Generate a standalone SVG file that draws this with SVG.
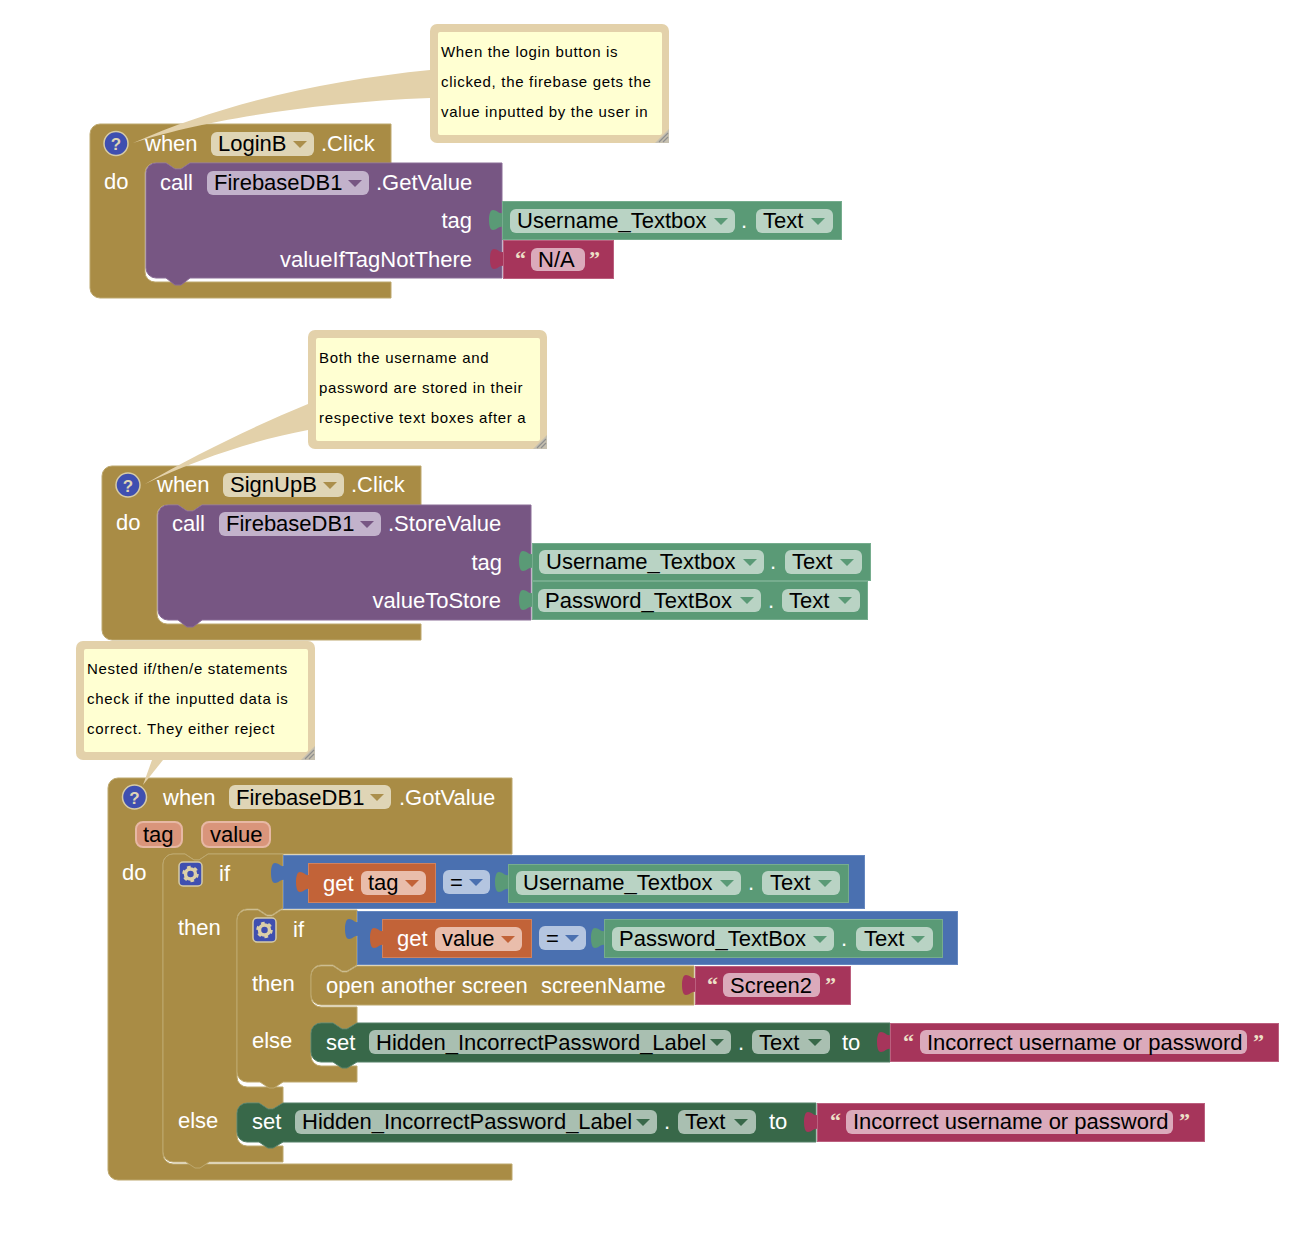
<svg xmlns="http://www.w3.org/2000/svg" width="1296" height="1242" viewBox="0 0 1296 1242">
<style>
text{font-family:"Liberation Sans",Arial,sans-serif;font-size:22px;fill:#fff}
.k{fill:#000}
.c{font-size:15px;fill:#000;letter-spacing:.68px}
.gold{fill:#a98c45;stroke:#bda86e}
.pur{fill:#775683;stroke:#8a6c96}
.grn{fill:#5a9a76;stroke:#76ad8e}
.pnk{fill:#a6355b;stroke:#bb5f7e}
.red{fill:#c26338;stroke:#d0825f}
.blu{fill:#4a70b0;stroke:#6587c0}
.dgr{fill:#386849;stroke:#558068}
.cb{fill:#e3d1aa}
.cy{fill:#ffffd2}
.fg{fill:#dfd5b6}.fp{fill:#c2b2cb}.fn{fill:#b9d3c4}.fd{fill:#a9bfb1}.fk{fill:#dbaabb}.fr{fill:#e9bdab}.fb{fill:#b4c5e0}
.pm{fill:#d9957b;stroke:#e7b8a4;stroke-width:2}
.ag{fill:#ab8f4c}.ap{fill:#775683}.an{fill:#5a9a76}.ad{fill:#386849}.ar{fill:#c26338}.ab{fill:#4a70b0}
.tg{fill:#5a9a76}.tk{fill:#a6355b}.tb{fill:#4a70b0}.tr{fill:#c26338}
.hb{fill:#3f4fb0;stroke:#d6cba6;stroke-width:1.5}
.hq{font-size:17px;font-weight:bold;fill:#dfd5b6}
.q{font-family:"Liberation Serif",serif;font-weight:bold;fill:#ecdfc6}
.gear{fill:none;stroke:#dcd0a8}
.grip{fill:none;stroke:#8f8f8f;stroke-width:1.2}
.gripbg{fill:#c6c0b0}
</style>
<defs>
<path id="tab" d="M1 -7C-2 -6 -4 -10 -8 -10C-11 -10 -12 -5 -12 0C-12 5 -11 10 -8 10C-4 10 -2 6 1 7Z"/>
<path id="arr" d="M0 0h14l-7 7z"/>
<g id="gearI"><circle r="5" class="gear" stroke-width="3.5"/><circle r="7" class="gear" stroke-width="2.500" stroke-dasharray="3.6 3.73"/></g>
<g id="grip"><path class="gripbg" d="M14 0V14H0Z"/><path class="grip" d="M4 13L13 4M8 13L13 8"/></g>
</defs>

<g id="connectors"></g>

<g id="when-loginb">
<path class="gold" d="M90 134a10 10 0 0 1 10-10H391V163H190l-9 6h-6l-9-6H155a10 10 0 0 0-10 10V272a10 10 0 0 0 10 10H391V298H100a10 10 0 0 1-10-10Z"/>
<circle class="hb" cx="116" cy="143.500" r="12"/>
<text class="hq" x="116" y="150" text-anchor="middle">?</text>
<rect class="fg" x="211" y="132" width="103" height="24" rx="6"/>
<text class="k" x="218" y="151">LoginB</text>
<use href="#arr" class="ag" x="293" y="141"/>
<text x="321" y="151">.Click</text>
<text x="104" y="189">do</text>
</g>
<g id="call-getvalue">
<path class="pur" d="M146 173a10 10 0 0 1 10-10h10l9 6h6l9-6H502V278H190l-9 7h-6l-9-7H156a10 10 0 0 1-10-10Z"/>
<text x="160" y="190">call</text>
<rect class="fp" x="207" y="171" width="162" height="24" rx="6"/>
<text class="k" x="214" y="190">FirebaseDB1</text>
<use href="#arr" class="ap" x="348" y="180"/>
<text x="376" y="190">.GetValue</text>
<text x="472" y="228" text-anchor="end">tag</text>
<text x="472" y="267" text-anchor="end">valueIfTagNotThere</text>
</g>
<g id="username-1">
<rect class="grn" x="502.500" y="201.500" width="339" height="38"/>
<use href="#tab" class="tg" x="501" y="220"/>
<rect class="fn" x="510" y="209" width="225" height="24" rx="6"/>
<text class="k" x="517" y="228">Username_Textbox</text>
<use href="#arr" class="an" x="714" y="218"/>
<text x="741" y="228">.</text>
<rect class="fn" x="756" y="209" width="77" height="24" rx="6"/>
<text class="k" x="763" y="228">Text</text>
<use href="#arr" class="an" x="811" y="218"/>
</g>
<g id="na-text">
<rect class="pnk" x="503.500" y="240.500" width="110" height="38"/>
<use href="#tab" class="tk" x="502" y="259"/>
<text class="q" x="515" y="266">“</text>
<rect class="fk" x="531" y="248" width="54" height="23" rx="6"/>
<text class="k" x="538" y="267">N/A</text>
<text class="q" x="589" y="266">”</text>
</g>

<g id="comment1">
<path class="cb" d="M430 70C330 80 225 102 133 143C190 124 300 103 430 98Z"/>
<rect class="cb" x="430" y="24" width="239" height="119" rx="7"/>
<rect class="cy" x="438" y="32" width="224" height="103" rx="2"/>
<use href="#grip" x="655" y="129"/>
<text class="c" x="441" y="57">When the login button is</text>
<text class="c" x="441" y="87">clicked, the firebase gets the</text>
<text class="c" x="441" y="117">value inputted by the user in</text>
<text x="145" y="151">when</text>
</g>

<g id="when-signupb">
<path class="gold" d="M102 476a10 10 0 0 1 10-10H421V505H202l-9 6h-6l-9-6H167a10 10 0 0 0-10 10V614a10 10 0 0 0 10 10H421V640H112a10 10 0 0 1-10-10Z"/>
<circle class="hb" cx="128" cy="485" r="12"/>
<text class="hq" x="128" y="491.500" text-anchor="middle">?</text>
<rect class="fg" x="223" y="473" width="121" height="24" rx="6"/>
<text class="k" x="230" y="492">SignUpB</text>
<use href="#arr" class="ag" x="323" y="482"/>
<text x="351" y="492">.Click</text>
<text x="116" y="530">do</text>
</g>
<g id="call-storevalue">
<path class="pur" d="M158 515a10 10 0 0 1 10-10h10l9 6h6l9-6H531V620H202l-9 7h-6l-9-7H168a10 10 0 0 1-10-10Z"/>
<text x="172" y="531">call</text>
<rect class="fp" x="219" y="512" width="162" height="24" rx="6"/>
<text class="k" x="226" y="531">FirebaseDB1</text>
<use href="#arr" class="ap" x="360" y="521"/>
<text x="388" y="531">.StoreValue</text>
<text x="502" y="570" text-anchor="end">tag</text>
<text x="501" y="608" text-anchor="end">valueToStore</text>
</g>
<g id="username-2">
<rect class="grn" x="532.500" y="543.500" width="338" height="37"/>
<use href="#tab" class="tg" x="531" y="561"/>
<rect class="fn" x="539" y="550" width="225" height="24" rx="6"/>
<text class="k" x="546" y="569">Username_Textbox</text>
<use href="#arr" class="an" x="743" y="559"/>
<text x="770" y="569">.</text>
<rect class="fn" x="785" y="550" width="77" height="24" rx="6"/>
<text class="k" x="792" y="569">Text</text>
<use href="#arr" class="an" x="840" y="559"/>
</g>
<g id="password-1">
<rect class="grn" x="532.500" y="581.500" width="335" height="38"/>
<use href="#tab" class="tg" x="531" y="600"/>
<rect class="fn" x="538" y="589" width="223" height="23" rx="6"/>
<text class="k" x="545" y="608">Password_TextBox</text>
<use href="#arr" class="an" x="740" y="597"/>
<text x="768" y="608">.</text>
<rect class="fn" x="782" y="589" width="78" height="23" rx="6"/>
<text class="k" x="789" y="608">Text</text>
<use href="#arr" class="an" x="838" y="597"/>
</g>

<g id="comment2">
<path class="cb" d="M308 404C250 428 195 455 145 484C200 458 255 440 308 430Z"/>
<rect class="cb" x="308" y="330" width="239" height="119" rx="7"/>
<rect class="cy" x="316" y="338" width="224" height="103" rx="2"/>
<use href="#grip" x="533" y="435"/>
<text class="c" x="319" y="363">Both the username and</text>
<text class="c" x="319" y="393">password are stored in their</text>
<text class="c" x="319" y="423">respective text boxes after a</text>
<text x="157" y="492">when</text>
</g>

<g id="when-gotvalue">
<path class="gold" d="M108 788a10 10 0 0 1 10-10H512V854H208l-9 6h-5l-9-6H173a10 10 0 0 0-10 10V1154a10 10 0 0 0 10 10H512V1180H118a10 10 0 0 1-10-10Z"/>
<circle class="hb" cx="134.500" cy="797" r="12"/>
<text class="hq" x="134.500" y="803.500" text-anchor="middle">?</text>
<text x="163" y="805">when</text>
<rect class="fg" x="229" y="785" width="162" height="24" rx="6"/>
<text class="k" x="236" y="805">FirebaseDB1</text>
<use href="#arr" class="ag" x="370" y="794"/>
<text x="399" y="805">.GotValue</text>
<rect class="pm" x="136" y="822" width="46" height="25" rx="7"/>
<text class="k" x="143" y="842">tag</text>
<rect class="pm" x="202" y="822" width="68" height="25" rx="7"/>
<text class="k" x="210" y="842">value</text>
<text x="122" y="880">do</text>
</g>

<g id="comment3">
<path class="cb" d="M152 760L143 785L163 760Z"/>
<rect class="cb" x="76" y="641" width="239" height="119" rx="7"/>
<rect class="cy" x="84" y="649" width="224" height="103" rx="2"/>
<use href="#grip" x="301" y="746"/>
<text class="c" x="87" y="674">Nested if/then/e statements</text>
<text class="c" x="87" y="704">check if the inputted data is</text>
<text class="c" x="87" y="734">correct. They either reject</text>
</g>

<g id="if-outer">
<path class="gold" d="M163 864a10 10 0 0 1 10-10h12l9 6h5l9-6H283V909H281l-9 6h-5l-9-6H247a10 10 0 0 0-10 10V1077a10 10 0 0 0 10 10H283V1103l-10 6h-5l-9-6H247a10 10 0 0 0-10 10V1136a10 10 0 0 0 10 10H283V1162H209l-9 6h-5l-9-6H173a10 10 0 0 1-10-10Z"/>
<rect class="hb" x="179" y="862" width="23" height="24" rx="4"/>
<use href="#gearI" x="190.500" y="874"/>
<text x="219" y="881">if</text>
<text x="178" y="935">then</text>
<text x="178" y="1128">else</text>
</g>
<g id="compare-outer">
<rect class="blu" x="283.500" y="855.500" width="581" height="53"/>
<use href="#tab" class="tb" x="283" y="873"/>
</g>
<g id="get-tag">
<rect class="red" x="308.500" y="863.500" width="127" height="39"/>
<use href="#tab" class="tr" x="308" y="882"/>
<text x="323" y="891">get</text>
<rect class="fr" x="361" y="871" width="65" height="24" rx="6"/>
<text class="k" x="368" y="890">tag</text>
<use href="#arr" class="ar" x="405" y="880"/>
</g>
<g id="eq-1">
<rect class="fb" x="443" y="870" width="47" height="24" rx="6"/>
<text class="k" x="450" y="890">=</text>
<use href="#arr" class="ab" x="469" y="879"/>
</g>
<g id="username-3">
<rect class="grn" x="508.500" y="864.500" width="340" height="38"/>
<use href="#tab" class="tg" x="507" y="882"/>
<rect class="fn" x="516" y="871" width="225" height="24" rx="6"/>
<text class="k" x="523" y="890">Username_Textbox</text>
<use href="#arr" class="an" x="720" y="880"/>
<text x="748" y="890">.</text>
<rect class="fn" x="762" y="871" width="78" height="24" rx="6"/>
<text class="k" x="770" y="890">Text</text>
<use href="#arr" class="an" x="818" y="880"/>
</g>

<g id="if-nested">
<path class="gold" d="M237 920a10 10 0 0 1 10-10h11l9 6h5l9-6H357V965l-10 6h-5l-9-6H321a10 10 0 0 0-10 10V997a10 10 0 0 0 10 10H357V1023l-10 6h-5l-9-6H321a10 10 0 0 0-10 10V1056a10 10 0 0 0 10 10H357V1082H283l-9 6h-5l-9-6H247a10 10 0 0 1-10-10Z"/>
<rect class="hb" x="253" y="918" width="23" height="24" rx="4"/>
<use href="#gearI" x="264.500" y="930"/>
<text x="293" y="937">if</text>
<text x="252" y="991">then</text>
<text x="252" y="1048">else</text>
</g>
<g id="compare-nested">
<rect class="blu" x="357.500" y="911.500" width="600" height="53"/>
<use href="#tab" class="tb" x="357" y="929"/>
</g>
<g id="get-value">
<rect class="red" x="382.500" y="919.500" width="149" height="38"/>
<use href="#tab" class="tr" x="382" y="938"/>
<text x="397" y="946">get</text>
<rect class="fr" x="435" y="927" width="87" height="24" rx="6"/>
<text class="k" x="442" y="946">value</text>
<use href="#arr" class="ar" x="501" y="936"/>
</g>
<g id="eq-2">
<rect class="fb" x="539" y="926" width="47" height="24" rx="6"/>
<text class="k" x="546" y="946">=</text>
<use href="#arr" class="ab" x="565" y="935"/>
</g>
<g id="password-2">
<rect class="grn" x="604.500" y="919.500" width="338" height="38"/>
<use href="#tab" class="tg" x="603" y="938"/>
<rect class="fn" x="612" y="927" width="222" height="24" rx="6"/>
<text class="k" x="619" y="946">Password_TextBox</text>
<use href="#arr" class="an" x="813" y="936"/>
<text x="841" y="946">.</text>
<rect class="fn" x="856" y="927" width="77" height="24" rx="6"/>
<text class="k" x="864" y="946">Text</text>
<use href="#arr" class="an" x="911" y="936"/>
</g>
<g id="open-screen">
<path class="gold" d="M311 976a10 10 0 0 1 10-10h12l9 6h5l10-6H694V1005H321a10 10 0 0 1-10-10Z"/>
<text x="326" y="993">open another screen</text>
<text x="541" y="993">screenName</text>
</g>
<g id="screen2">
<rect class="pnk" x="695.500" y="966.500" width="155" height="38"/>
<use href="#tab" class="tk" x="694" y="985"/>
<text class="q" x="707" y="992">“</text>
<rect class="fk" x="723" y="973" width="97" height="24" rx="6"/>
<text class="k" x="730" y="993">Screen2</text>
<text class="q" x="825" y="992">”</text>
</g>
<g id="set-1">
<path class="dgr" d="M311 1033a10 10 0 0 1 10-10h12l9 6h5l10-6H890V1062H357l-10 6h-5l-9-6H321a10 10 0 0 1-10-10Z"/>
<text x="326" y="1050">set</text>
<rect class="fd" x="369" y="1030" width="362" height="24" rx="6"/>
<text class="k" x="376" y="1050">Hidden_IncorrectPassword_Label</text>
<use href="#arr" class="ad" x="710" y="1039"/>
<text x="738" y="1050">.</text>
<rect class="fd" x="752" y="1030" width="78" height="24" rx="6"/>
<text class="k" x="759" y="1050">Text</text>
<use href="#arr" class="ad" x="808" y="1039"/>
<text x="842" y="1050">to</text>
</g>
<g id="incorrect-1">
<rect class="pnk" x="890.500" y="1023.500" width="388" height="38"/>
<use href="#tab" class="tk" x="889" y="1042"/>
<text class="q" x="903" y="1049">“</text>
<rect class="fk" x="920" y="1030" width="327" height="24" rx="6"/>
<text class="k" x="927" y="1050">Incorrect username or password</text>
<text class="q" x="1253" y="1049">”</text>
</g>
<g id="set-2">
<path class="dgr" d="M237 1113a10 10 0 0 1 10-10h12l9 6h5l10-6H816V1142H283l-10 6h-5l-9-6H247a10 10 0 0 1-10-10Z"/>
<text x="252" y="1129">set</text>
<rect class="fd" x="295" y="1110" width="362" height="24" rx="6"/>
<text class="k" x="302" y="1129">Hidden_IncorrectPassword_Label</text>
<use href="#arr" class="ad" x="636" y="1119"/>
<text x="664" y="1129">.</text>
<rect class="fd" x="678" y="1110" width="78" height="24" rx="6"/>
<text class="k" x="685" y="1129">Text</text>
<use href="#arr" class="ad" x="734" y="1119"/>
<text x="769" y="1129">to</text>
</g>
<g id="incorrect-2">
<rect class="pnk" x="817.500" y="1103.500" width="387" height="38"/>
<use href="#tab" class="tk" x="816" y="1122"/>
<text class="q" x="830" y="1128">“</text>
<rect class="fk" x="846" y="1110" width="327" height="24" rx="6"/>
<text class="k" x="853" y="1129">Incorrect username or password</text>
<text class="q" x="1179" y="1128">”</text>
</g>
</svg>
